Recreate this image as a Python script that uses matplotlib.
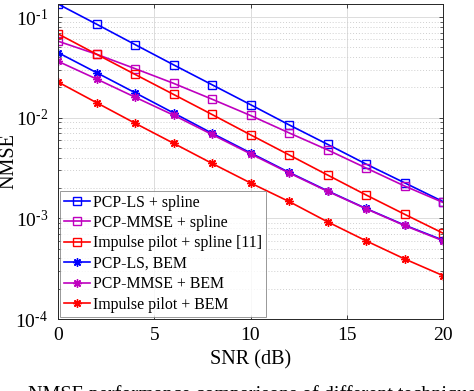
import numpy as np
import matplotlib
matplotlib.use("Agg")
import matplotlib.pyplot as plt
from matplotlib.ticker import LogLocator, NullFormatter, FuncFormatter

plt.rcParams['font.family'] = ['Liberation Serif', 'DejaVu Serif']
plt.rcParams['mathtext.fontset'] = 'custom'
plt.rcParams['mathtext.rm'] = 'Liberation Serif'
plt.rcParams['mathtext.it'] = 'Liberation Serif:italic'

snr = [0, 2, 4, 6, 8, 10, 12, 14, 16, 18, 20]

# NMSE
pcp_ls_spline = [0.135, 0.0852, 0.0534, 0.0336, 0.0213, 0.0135, 0.00851, 0.00545, 0.00347, 0.00226, 0.00147]
pcp_mmse_spline = [0.0577, 0.0428, 0.0308, 0.0220, 0.0153, 0.01054, 0.00708, 0.00480, 0.00317, 0.00210, 0.00144]
imp_spline = [0.0682, 0.0428, 0.0270, 0.01707, 0.01078, 0.00677, 0.00428, 0.00270, 0.00171, 0.00110, 0.000713]
pcp_ls_bem = [0.0444, 0.0281, 0.01775, 0.01117, 0.00702, 0.00448, 0.00287, 0.00188, 0.001255, 0.000858, 0.000608]
pcp_mmse_bem = [0.0364, 0.0243, 0.01603, 0.01062, 0.00682, 0.00438, 0.00283, 0.00186, 0.001247, 0.000850, 0.000599]
imp_bem = [0.02265, 0.01413, 0.00883, 0.00558, 0.00352, 0.00225, 0.001472, 0.000925, 0.000599, 0.000396, 0.000270]

labels = ['PCP-LS + spline', 'PCP-MMSE + spline', 'Impulse pilot + spline [11]',
          'PCP-LS, BEM', 'PCP-MMSE + BEM', 'Impulse pilot + BEM']

fig = plt.figure(figsize=(4.74, 3.91), dpi=100)
ax = fig.add_axes([0.1224, 0.1841, 0.8122, 0.8056])

star = (8, 2, 0)
sq = dict(marker='s', markersize=5.5, mfc='none', mew=1.0, lw=1.2)
st = dict(marker=star, markersize=6, mew=1.0, lw=1.2)
ax.semilogy(snr, pcp_ls_spline, color='b', label=labels[0], **sq)
ax.semilogy(snr, pcp_mmse_spline, color='m', label=labels[1], **sq)
ax.semilogy(snr, imp_spline, color='r', label=labels[2], **sq)
ax.semilogy(snr, pcp_ls_bem, color='b', label=labels[3], **st)
ax.semilogy(snr, pcp_mmse_bem, color='m', label=labels[4], **st)
ax.semilogy(snr, imp_bem, color='r', label=labels[5], **st)

ax.set_xlim(0, 20)
ax.set_ylim(1e-4, 0.135)
ax.set_xticks([0, 5, 10, 15, 20])
ax.yaxis.set_major_locator(LogLocator(base=10, numticks=10))
ax.yaxis.set_minor_locator(LogLocator(base=10, subs=np.arange(2, 10), numticks=10))
ax.yaxis.set_minor_formatter(NullFormatter())
# MATLAB style exponent with a short hyphen
ax.yaxis.set_major_formatter(FuncFormatter(
    lambda v, p: '10$^{\u2010%d}$' % round(-np.log10(v))))

ax.grid(True, which='major', color='#dcdcdc', lw=0.7, ls='-')
ax.grid(True, which='minor', axis='y', color='#cfcfcf', lw=0.7, ls=(0, (1, 2)))
ax.set_axisbelow(True)

ax.tick_params(which='both', direction='in', top=True, right=True, colors='#262626',
               labelcolor='black')
ax.tick_params(axis='y', labelsize=14, pad=7)
ax.tick_params(axis='x', labelsize=14, pad=6)
ax.tick_params(which='major', length=3, width=0.6)
ax.tick_params(which='minor', length=2, width=0.5)
for s in ax.spines.values():
    s.set_color('#262626')
    s.set_linewidth(0.7)

ax.set_xlabel('SNR (dB)', fontsize=14.5, labelpad=4)
ax.set_ylabel('NMSE', fontsize=14.5)
ax.yaxis.set_label_coords(-0.104, 0.5)

leg = ax.legend(loc='lower left', fontsize=11.4, frameon=True, fancybox=False,
                borderaxespad=0.15, labelspacing=0.28, handlelength=1.6,
                handletextpad=0.2, borderpad=0.25, edgecolor='#7f7f7f')
leg.get_frame().set_linewidth(0.7)

fig.text(5 / 474, -9 / 391, 'Fig. 5.', ha='right', va='baseline', fontsize=14.5)
fig.text(28 / 474, -9 / 391, 'NMSE performance comparisons of different techniques',
         ha='left', va='baseline', fontsize=14.5)

fig.savefig('out.png', dpi=100)
